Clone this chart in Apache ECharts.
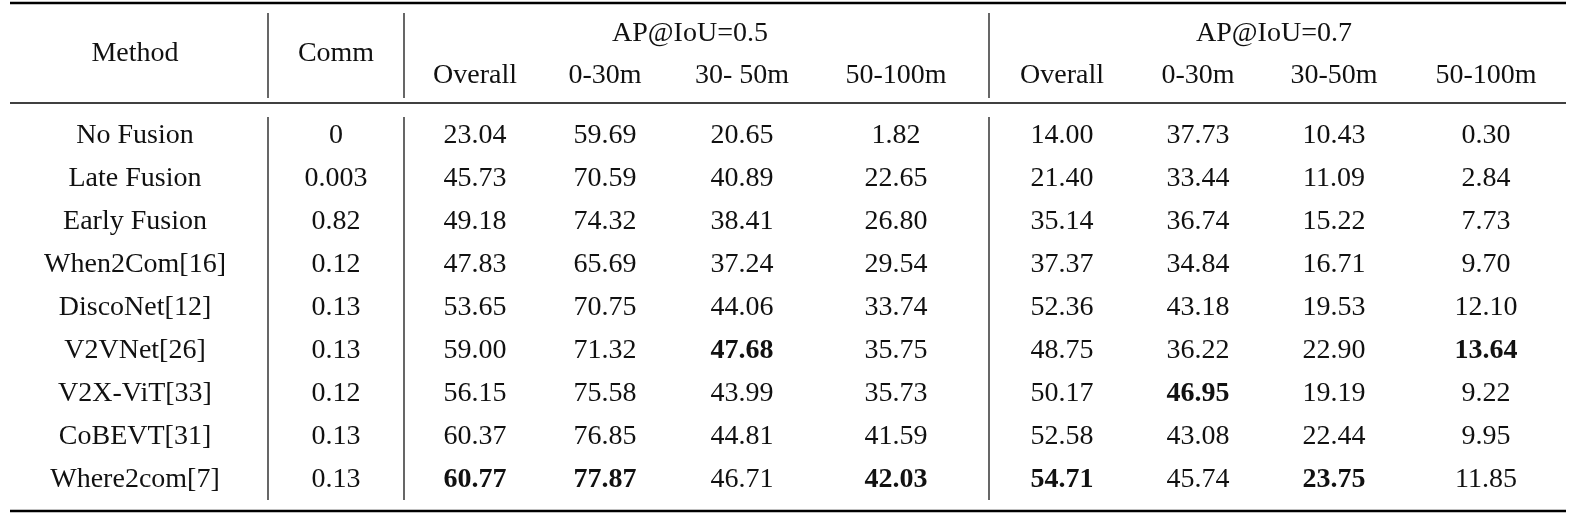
<!DOCTYPE html>
<html><head><meta charset="utf-8">
<script src="https://cdn.jsdelivr.net/npm/echarts@6/dist/echarts.min.js"></script>
<style>html,body{margin:0;padding:0;background:#fff}#main{width:1578px;height:517px}</style>
</head><body><div id="main"></div>
<script>
var methods = ['No Fusion', 'Late Fusion', 'Early Fusion', 'When2Com[16]', 'DiscoNet[12]', 'V2VNet[26]', 'V2X-ViT[33]', 'CoBEVT[31]', 'Where2com[7]'];
var comm = ['0', '0.003', '0.82', '0.12', '0.13', '0.13', '0.12', '0.13', '0.13'];
var subHeaders = ['Overall', '0-30m', '30- 50m', '50-100m', 'Overall', '0-30m', '30-50m', '50-100m'];
var ap05 = [
    ['23.04', '59.69', '20.65', '1.82'],
    ['45.73', '70.59', '40.89', '22.65'],
    ['49.18', '74.32', '38.41', '26.80'],
    ['47.83', '65.69', '37.24', '29.54'],
    ['53.65', '70.75', '44.06', '33.74'],
    ['59.00', '71.32', '47.68', '35.75'],
    ['56.15', '75.58', '43.99', '35.73'],
    ['60.37', '76.85', '44.81', '41.59'],
    ['60.77', '77.87', '46.71', '42.03']
];
var ap07 = [
    ['14.00', '37.73', '10.43', '0.30'],
    ['21.40', '33.44', '11.09', '2.84'],
    ['35.14', '36.74', '15.22', '7.73'],
    ['37.37', '34.84', '16.71', '9.70'],
    ['52.36', '43.18', '19.53', '12.10'],
    ['48.75', '36.22', '22.90', '13.64'],
    ['50.17', '46.95', '19.19', '9.22'],
    ['52.58', '43.08', '22.44', '9.95'],
    ['54.71', '45.74', '23.75', '11.85']
];
// bold cells: [row, column index in 0..7]
var boldCells = [[5, 2], [5, 7], [6, 5], [8, 0], [8, 1], [8, 3], [8, 4], [8, 6]];

var chart = echarts.init(document.getElementById('main'));
var font = '"Liberation Serif", "DejaVu Serif", serif';
var colX = [475, 605, 742, 896, 1062, 1198, 1334, 1486];
var rowY0 = 136, rowH = 43;
var els = [];

function txt(x, y, s, bold) {
    els.push({
        type: 'text', x: x, y: y,
        style: {text: s, fill: '#111', font: (bold ? 'bold ' : '') + '28px ' + font, align: 'center', verticalAlign: 'middle'}
    });
}
function line(x1, y1, x2, y2, w) {
    els.push({type: 'line', shape: {x1: x1, y1: y1, x2: x2, y2: y2}, style: {stroke: '#000', lineWidth: w}});
}

line(10, 3, 1566, 3, 2.5);
line(10, 103, 1566, 103, 1.5);
line(10, 511, 1566, 511, 2.5);
[268, 404, 989].forEach(function (x) {
    line(x, 13, x, 98, 1.2);
    line(x, 117, x, 500, 1.2);
});

txt(135, 54, 'Method');
txt(336, 54, 'Comm');
txt(690, 34, 'AP@IoU=0.5');
txt(1274, 34, 'AP@IoU=0.7');
subHeaders.forEach(function (s, i) { txt(colX[i], 76, s); });

function isBold(r, c) {
    return boldCells.some(function (b) { return b[0] === r && b[1] === c; });
}
methods.forEach(function (m, r) {
    var y = rowY0 + r * rowH;
    txt(135, y, m);
    txt(336, y, comm[r]);
    var vals = ap05[r].concat(ap07[r]);
    vals.forEach(function (v, c) { txt(colX[c], y, v, isBold(r, c)); });
});

chart.setOption({graphic: {elements: els}});
</script>
</body></html>
